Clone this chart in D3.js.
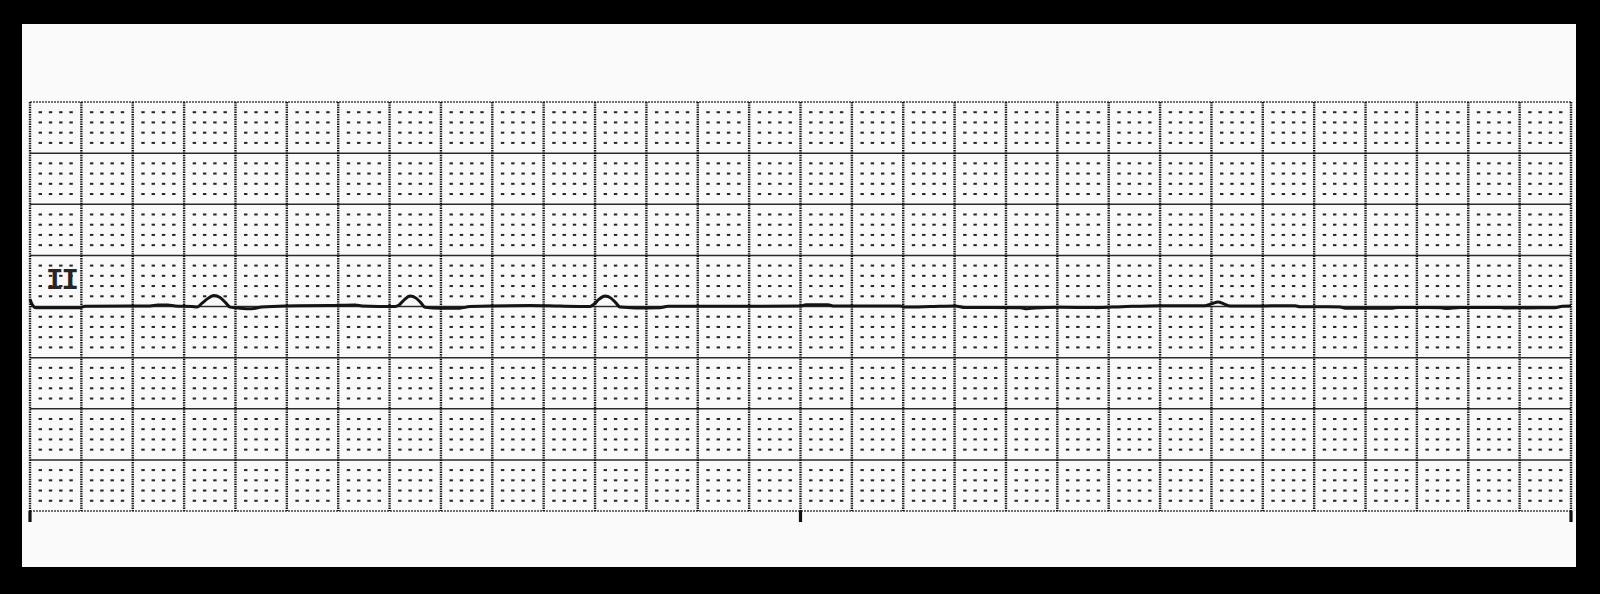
<!DOCTYPE html>
<html>
<head>
<meta charset="utf-8">
<script src="https://cdn.jsdelivr.net/npm/d3@7"></script>
<style>
  html, body { margin: 0; padding: 0; background: #000; }
  svg { display: block; }
</style>
</head>
<body>
<div id="strip"></div>
<script>
// lead II rhythm strip, 25 mm/s, 10 mm/mV
const leadLabel = "II";
const secondsShown = [0, 6];      // 30 big boxes of 0.2 s
const mvShown = [-2, 2];          // 8 big boxes of 0.5 mV
const bigBoxSec = 0.2, bigBoxMv = 0.5;
const markerSec = [0, 3, 6];      // timing marks under the strip

// trace: [seconds, mV]
const traceT = [0, 0.008, 0.023, 0.195, 0.214, 0.467, 0.498, 0.537, 0.565, 0.631, 0.650,
  0.670, 0.689, 0.716, 0.740, 0.763, 0.779,
  0.818, 0.864, 0.903, 0.993, 1.168, 1.266, 1.293, 1.421,
  1.437, 1.456, 1.480, 1.503, 1.523, 1.538,
  1.597, 1.674, 1.713, 1.947, 2.064, 2.181,
  2.196, 2.216, 2.239, 2.262, 2.282, 2.297,
  2.356, 2.453, 2.484, 2.998, 3.022, 3.107, 3.131, 3.388, 3.407, 3.505, 3.602, 3.641,
  3.855, 3.882, 3.914, 4.011, 4.147, 4.252, 4.400, 4.575, 4.603, 4.626, 4.650, 4.673,
  4.926, 4.945, 5.101, 5.121, 5.304, 5.327, 5.491, 5.510, 5.569, 5.724, 5.744, 5.938, 5.966, 6.0];
const traceMv = [0.072, 0.023, -0.011, -0.011, 0.002, 0.006, 0.014, 0.014, 0.004, -0.001, -0.006,
  0.033, 0.072, 0.107, 0.087, 0.033, -0.006,
  -0.016, -0.021, -0.006, 0.006, 0.009, 0.014, 0.006, -0.001,
  0.014, 0.063, 0.102, 0.082, 0.033, -0.008,
  -0.018, -0.016, -0.001, 0.009, 0.004, 0.001,
  0.023, 0.072, 0.102, 0.082, 0.033, -0.006,
  -0.014, -0.012, 0.002, 0.004, 0.016, 0.016, 0.004, 0.004, -0.006, -0.001, 0.006, -0.010,
  -0.012, -0.022, -0.014, -0.008, -0.011, -0.002, 0.008, 0.008, 0.028, 0.045, 0.023, 0.004,
  0.008, -0.002, -0.004, -0.016, -0.016, -0.010, -0.012, -0.020, -0.010, -0.010, -0.014, -0.012, 0.002, 0.004];

const W = 1600, H = 594;
const paper = { x: 22, y: 24, w: 1554, h: 543 };

const svg = d3.select('#strip').append('svg')
    .attr('width', W)
    .attr('height', H)
    .style('background-color', '#000');

svg.append('rect')
    .attr('x', paper.x).attr('y', paper.y)
    .attr('width', paper.w).attr('height', paper.h)
    .attr('fill', '#fafafa');

let x = d3.scaleLinear().domain(secondsShown).range([30, 1571]);
let y = d3.scaleLinear().domain(mvShown).range([511, 102]);

let nCols = Math.round((secondsShown[1] - secondsShown[0]) / bigBoxSec);
let nRows = Math.round((mvShown[1] - mvShown[0]) / bigBoxMv);
let colTicks = d3.range(nCols + 1).map(i => secondsShown[0] + i * bigBoxSec);
let rowTicks = d3.range(nRows + 1).map(i => mvShown[0] + i * bigBoxMv);

let grid = svg.append('g').classed('grid', true);

// small dots at the 1 mm crossings
let dotsX = [], dotsY = [];
d3.range(nCols * 5).forEach(i => { if (i % 5) dotsX.push(secondsShown[0] + i * bigBoxSec / 5); });
d3.range(nRows * 5).forEach(i => { if (i % 5) dotsY.push(mvShown[0] + i * bigBoxMv / 5); });
let dots = [];
dotsX.forEach(a => dotsY.forEach(b => dots.push([a, b])));

grid.selectAll('.dot')
    .data(dots)
    .enter().append('rect')
    .attr('class', 'dot')
    .attr('x', d => x(d[0]) - 1.7)
    .attr('y', d => y(d[1]) - 1)
    .attr('width', 3.4)
    .attr('height', 2)
    .attr('fill', '#262626');

// horizontal big lines: thin, nearly solid
grid.selectAll('.hline')
    .data(rowTicks)
    .enter().append('line')
    .attr('class', 'hline')
    .attr('x1', x(secondsShown[0])).attr('x2', x(secondsShown[1]))
    .attr('y1', d => y(d)).attr('y2', d => y(d))
    .attr('stroke', (d, i) => (i === 0 || i === nRows) ? '#444' : '#2a2a2a')
    .attr('stroke-width', 1.5)
    .attr('stroke-dasharray', (d, i) => (i === 0 || i === nRows) ? '2,1' : null);

// vertical big lines: ladder-like dotted
grid.selectAll('.vline')
    .data(colTicks)
    .enter().append('line')
    .attr('class', 'vline')
    .attr('x1', d => x(d)).attr('x2', d => x(d))
    .attr('y1', y(mvShown[1])).attr('y2', y(mvShown[0]))
    .attr('stroke', '#111')
    .attr('stroke-width', 2.4)
    .attr('stroke-dasharray', '1.4,1');

// timing marks
svg.selectAll('.mark')
    .data(markerSec)
    .enter().append('line')
    .attr('class', 'mark')
    .attr('x1', d => x(d)).attr('x2', d => x(d))
    .attr('y1', y(mvShown[0])).attr('y2', y(mvShown[0]) + 11)
    .attr('stroke', '#111')
    .attr('stroke-width', 3.2);

// lead label
svg.append('text')
    .attr('x', 46)
    .attr('y', 289)
    .attr('font-family', '"Liberation Mono", "DejaVu Sans Mono", monospace')
    .attr('font-weight', 'bold')
    .attr('font-size', 29)
    .attr('letter-spacing', -2)
    .attr('fill', '#262626')
    .text(leadLabel);

// trace
let traceData = traceT.map((t, i) => ({ t: t, mv: traceMv[i] }));

let line = d3.line()
    .x(d => x(d.t))
    .y(d => y(d.mv))
    .curve(d3.curveMonotoneX);

svg.append('path')
    .datum(traceData)
    .attr('d', line)
    .attr('fill', 'none')
    .attr('stroke', '#141414')
    .attr('stroke-width', 3)
    .attr('stroke-linejoin', 'round');
</script>
</body>
</html>
